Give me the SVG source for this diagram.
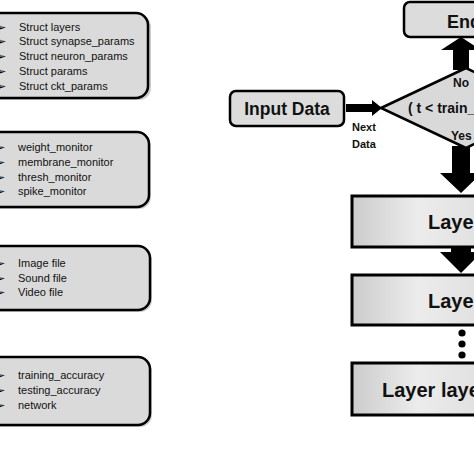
<svg xmlns="http://www.w3.org/2000/svg" width="474" height="474" viewBox="0 0 474 474">
<defs>
<linearGradient id="lg" x1="0" y1="0" x2="1" y2="0">
<stop offset="0" stop-color="#cccccc"/>
<stop offset="0.3" stop-color="#ececec"/>
<stop offset="1" stop-color="#cfcfcf"/>
</linearGradient>
<style>
.lbox{fill:#dadada;stroke:#000;stroke-width:2.5}
.shd{fill:#9a9a9a;opacity:0.5}
.lt{font-family:"Liberation Sans",Arial,sans-serif;font-size:11px;fill:#111}
.bl{font-family:"DejaVu Sans",sans-serif;font-size:11px;fill:#000}
.rbox{fill:#dcdcdc;stroke:#000;stroke-width:2.5}
.layer{fill:url(#lg);stroke:#000;stroke-width:3}
.bt{font-family:"Liberation Sans",Arial,sans-serif;font-weight:bold;fill:#111}
.arr{fill:#000}
</style>
</defs>
<rect width="474" height="474" fill="#fff"/>

<g id="box-structs">
<rect class="shd" x="-13" y="15" width="164" height="85" rx="12"/>
<rect class="lbox" x="-15" y="13" width="163" height="85" rx="12"/>
<text class="bl" x="-3" y="30.5">➢</text><text class="lt" x="19" y="30.5">Struct layers</text>
<text class="bl" x="-3" y="45.3">➢</text><text class="lt" x="19" y="45.3">Struct synapse_params</text>
<text class="bl" x="-3" y="60">➢</text><text class="lt" x="19" y="60">Struct neuron_params</text>
<text class="bl" x="-3" y="74.8">➢</text><text class="lt" x="19" y="74.8">Struct params</text>
<text class="bl" x="-3" y="89.5">➢</text><text class="lt" x="19" y="89.5">Struct ckt_params</text>
</g>

<g id="box-monitors">
<rect class="shd" x="-13" y="134" width="164" height="75" rx="12"/>
<rect class="lbox" x="-15" y="132" width="164" height="75" rx="12"/>
<text class="bl" x="-4" y="151">➢</text><text class="lt" x="18" y="151">weight_monitor</text>
<text class="bl" x="-4" y="166">➢</text><text class="lt" x="18" y="166">membrane_monitor</text>
<text class="bl" x="-4" y="181">➢</text><text class="lt" x="18" y="181">thresh_monitor</text>
<text class="bl" x="-4" y="195">➢</text><text class="lt" x="18" y="195">spike_monitor</text>
</g>

<g id="box-files">
<rect class="shd" x="-13" y="248" width="165" height="64" rx="12"/>
<rect class="lbox" x="-15" y="246" width="165" height="64" rx="12"/>
<text class="bl" x="-4" y="267">➢</text><text class="lt" x="18" y="267">Image file</text>
<text class="bl" x="-4" y="282">➢</text><text class="lt" x="18" y="282">Sound file</text>
<text class="bl" x="-4" y="296">➢</text><text class="lt" x="18" y="296">Video file</text>
</g>

<g id="box-outputs">
<rect class="shd" x="-13" y="359" width="165" height="68" rx="12"/>
<rect class="lbox" x="-15" y="357" width="165" height="68" rx="12"/>
<text class="bl" x="-4" y="379">➢</text><text class="lt" x="18" y="379">training_accuracy</text>
<text class="bl" x="-4" y="394">➢</text><text class="lt" x="18" y="394">testing_accuracy</text>
<text class="bl" x="-4" y="409">➢</text><text class="lt" x="18" y="409">network</text>
</g>

<g id="connectors">
<polygon class="arr" points="453,70 453,50 441,50 461,37 481,50 469,50 469,70"/>
<polygon class="arr" points="346,104 372,104 372,100 382,108 372,116 372,112 346,112"/>
<polygon class="arr" points="452,146 470,146 470,173 482,173 461,193 440,173 452,173"/>
<polygon class="arr" points="451,247 471,247 471,252 482,252 461,273 440,252 451,252"/>
<circle class="arr" cx="462" cy="333" r="3.6"/>
<circle class="arr" cx="462" cy="344" r="3.6"/>
<circle class="arr" cx="462" cy="355" r="3.6"/>
<text class="bt" x="352" y="131" font-size="11">Next</text>
<text class="bt" x="352" y="148" font-size="11">Data</text>
</g>

<g id="node-end">
<rect class="rbox" x="404" y="2" width="120" height="35" rx="6"/>
<text class="bt" x="447" y="28" font-size="18">End</text>
</g>

<g id="node-input">
<rect class="rbox" x="230" y="91" width="114" height="35" rx="6"/>
<text class="bt" x="287" y="114.5" font-size="17.5" text-anchor="middle">Input Data</text>
</g>

<g id="node-decision">
<polygon points="381,108 466,68 551,108 466,148" fill="#d9d9d9" stroke="#000" stroke-width="2.5"/>
<text class="bt" x="453" y="87" font-size="12">No</text>
<text class="bt" x="408" y="113" font-size="14">( t  &lt; train_epochs )</text>
<text class="bt" x="451" y="140" font-size="12">Yes</text>
</g>

<g id="node-layer1">
<rect class="layer" x="352" y="196" width="220" height="51"/>
<text class="bt" x="428" y="229" font-size="20">Layer 1</text>
</g>

<g id="node-layer2">
<rect class="layer" x="352" y="275" width="220" height="50"/>
<text class="bt" x="428" y="308" font-size="20">Layer 2</text>
</g>

<g id="node-layer3">
<rect class="layer" x="352" y="363" width="220" height="52"/>
<text class="bt" x="382" y="397" font-size="20">Layer layers</text>
</g>
</svg>
